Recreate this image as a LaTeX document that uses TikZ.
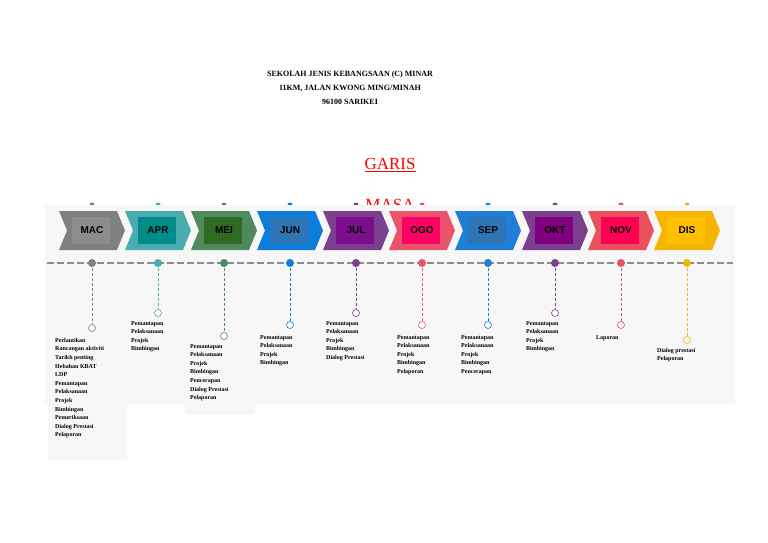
\documentclass[tikz,border=0pt]{standalone}
\usepackage{fontspec}
\setmainfont{Liberation Serif}
\newfontfamily\sansb{Liberation Sans}
\begin{document}
\begin{tikzpicture}[x=1pt,y=-1pt,
 dlab/.style={anchor=north west,align=left,font=\fontsize{6}{8.6}\selectfont\bfseries,inner sep=0pt},
 mon/.style={font=\sansb\bfseries\fontsize{10}{10}\selectfont,text=black}]
\useasboundingbox (0,0) rectangle (768,543);
\fill[white] (0,0) rectangle (768,543);
\node[font=\fontsize{8}{14}\selectfont\bfseries,align=center] (title) at (350,88) {SEKOLAH JENIS KEBANGSAAN (C) MINAR\\11KM, JALAN KWONG MING/MINAH\\96100 SARIKEI};
\node[text=red,font=\fontsize{17}{17}\selectfont] (garis) at (390,165) {\underline{GARIS}};
\node[text=red,font=\fontsize{17}{17}\selectfont] (masa) at (390,205) {MASA};
\foreach \cx/\oc in {92/808080,158/4BACB0,224/4E8A5E,290/0B7DDA,356/7B3F8F,422/E8556A,488/1F7FD6,555/7B3F8F,621/E8505B,687/F5B400}{
 \definecolor{oc}{HTML}{\oc}\fill[oc] (\cx,205) circle (2.5);}
\fill[black!3] (45,205) rectangle (735,404);
\fill[black!3] (48,404) rectangle (127,460);
\fill[black!3] (185,404) rectangle (255,415);
\draw[gray!90,dashed,line width=1.3pt,dash pattern=on 7pt off 3pt] (47,263) -- (733,263);
\foreach \cx/\m/\oc/\ic/\cy/\ty/\tx/\txt in {
 92/MAC/808080/8C8C8C/328/338/55/{Perlantikan\\Rancangan aktiviti\\Tarikh penting\\Hebahan KBAT\\LDP\\Pemantapan\\Pelaksanaan\\Projek\\Bimbingan\\Pemeriksaan\\Dialog Prestasi\\Pelaporan},
 158/APR/4BACB0/008B8B/313/321/131/{Pemantapan\\Pelaksanaan\\Projek\\Bimbingan},
 224/MEI/4E8A5E/2E6B1E/336/344/190/{Pemantapan\\Pelaksanaan\\Projek\\Bimbingan\\Pencerapan\\Dialog Prestasi\\Pelaporan},
 290/JUN/0B7DDA/2E75B6/325/335/260/{Pemantapan\\Pelaksanaan\\Projek\\Bimbingan},
 356/JUL/7B3F8F/7B0E8A/313/321/326/{Pemantapan\\Pelaksanaan\\Projek\\Bimbingan\\Dialog Prestasi},
 422/OGO/E8556A/FF0066/325/335/397/{Pemantapan\\Pelaksanaan\\Projek\\Bimbingan\\Pelaporan},
 488/SEP/1F7FD6/2E75B6/325/335/461/{Pemantapan\\Pelaksanaan\\Projek\\Bimbingan\\Pencerapan},
 555/OKT/7B3F8F/800080/313/321/526/{Pemantapan\\Pelaksanaan\\Projek\\Bimbingan},
 621/NOV/E8505B/FF0055/325/335/596/{Laporan},
 687/DIS/F5B400/FFC000/340/348/657/{Dialog prestasi\\Pelaporan}}{
 \definecolor{oc}{HTML}{\oc}\definecolor{ic}{HTML}{\ic}
 \fill[oc] (\cx-33,211) -- (\cx+25,211) -- (\cx+33,230.5) -- (\cx+25,250) -- (\cx-33,250) -- (\cx-25,230.5) -- cycle;
 \fill[ic] (\cx-20,217) rectangle (\cx+18,244);
 \node[mon] (m\m) at (\cx,230.5) {\m};
 \fill[oc] (\cx,263) circle (4);
 \coordinate (d\m) at (\cx,263);
 \node[draw=oc,fill=white,circle,inner sep=0pt,minimum size=7pt,line width=0.6pt] (c\m) at (\cx,\cy) {};
 \draw[oc,dashed,line width=0.6pt,dash pattern=on 3pt off 2pt] (d\m) -- (c\m);
 \node[dlab] (t\m) at (\tx,\ty) {\txt};
}
\end{tikzpicture}
\end{document}
